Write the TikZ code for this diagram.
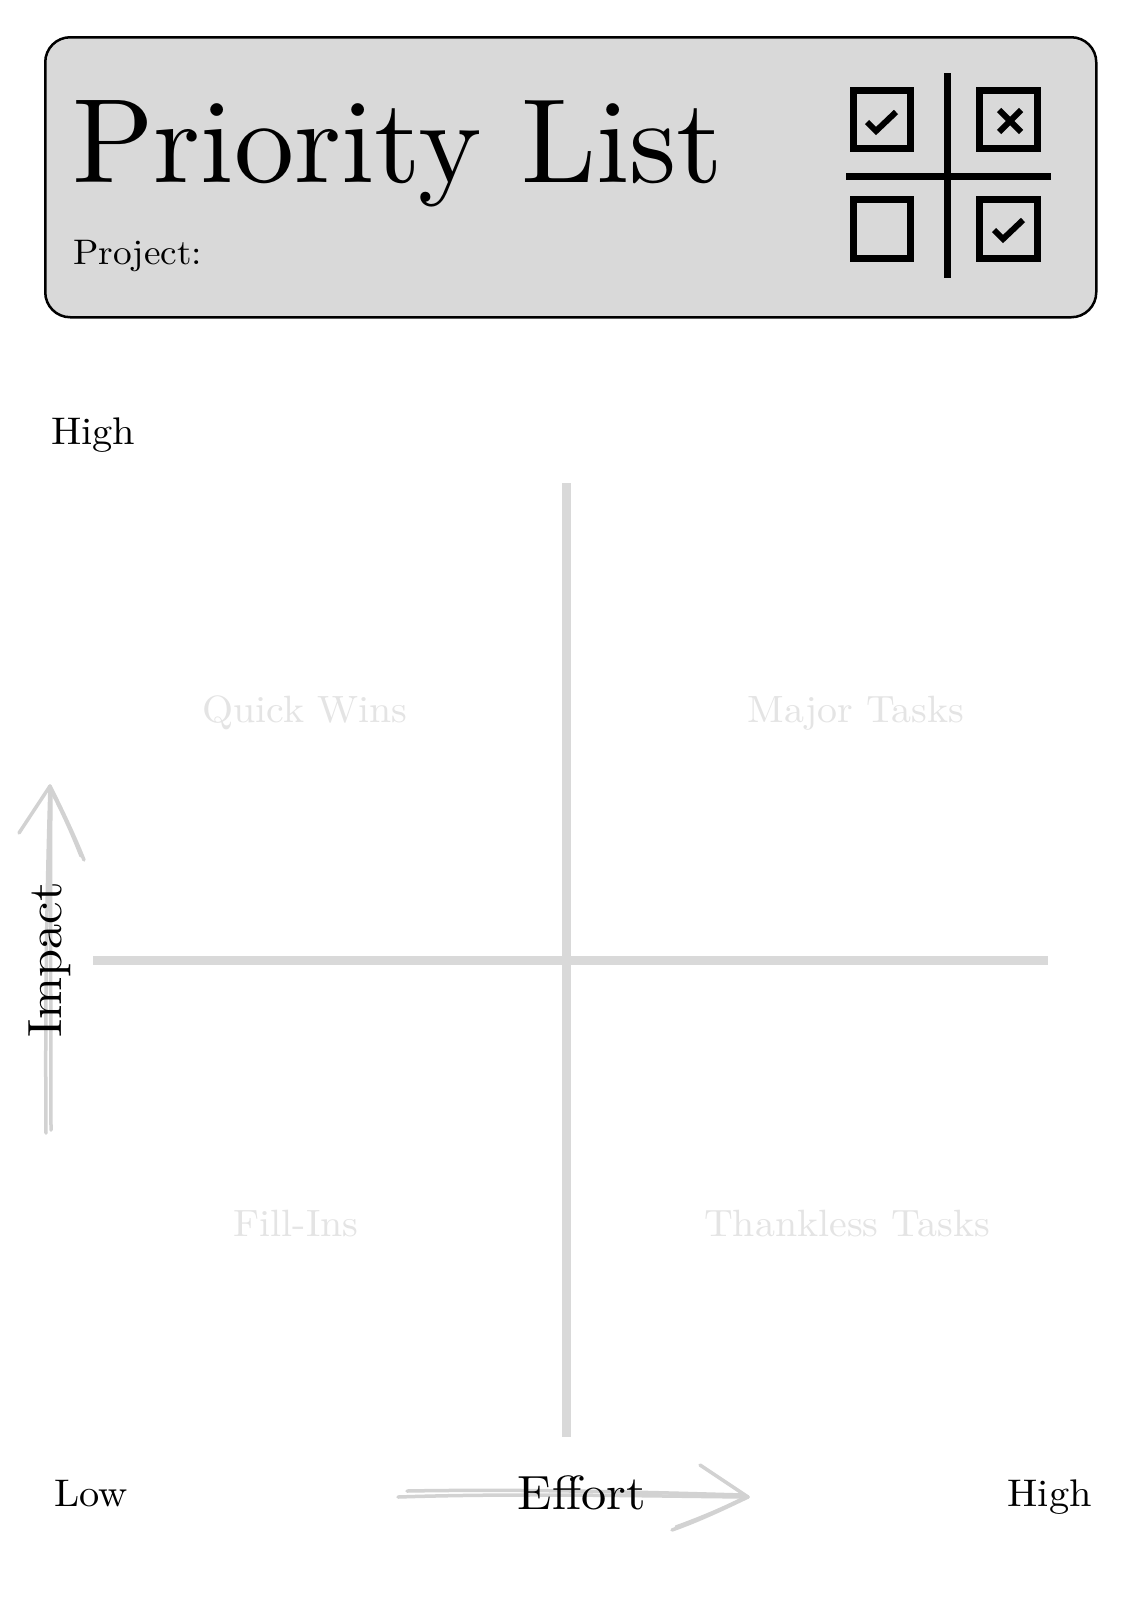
\documentclass[tikz,border=0pt]{standalone}
\usepackage{fontspec}
\setmainfont{lmroman10-regular.otf}[FakeStretch=1.05]
\newfontfamily\titlefont{lmroman10-regular.otf}
\begin{document}
\begin{tikzpicture}[x=1pt,y=-1pt,
  hdr/.style={draw=black,line width=2.5pt,fill=hdrgray,rounded corners=25pt},
  icon/.style={draw=black,line width=7pt},
  tick/.style={draw=black,line width=6pt},
  axis/.style={draw=axgray,line width=9pt},
  sketch/.style={draw=arrgray,line width=3.5pt,line cap=round,line join=round},
  quad/.style={text=quadgray,font=\fontsize{38}{38}\selectfont,anchor=base,inner sep=0pt},
  lbl/.style={text=black,font=\fontsize{38.5}{38.5}\selectfont,inner sep=0pt}]
\definecolor{hdrgray}{HTML}{D9D9D9}
\definecolor{axgray}{HTML}{D9D9D9}
\definecolor{arrgray}{HTML}{D2D2D2}
\definecolor{quadgray}{HTML}{E4E4E4}
\fill[white] (0,0) rectangle (1140,1612);
\useasboundingbox (0,0) rectangle (1140,1612);
% header
\node[hdr,minimum width=1051pt,minimum height=280pt,anchor=north west] (header) at (44,36) {};
\node[anchor=base west,inner sep=0pt,font=\titlefont\fontsize{120}{120}\selectfont] (title) at (72,182) {Priority List};
\node[anchor=base west,inner sep=0pt,font=\fontsize{35.5}{35.5}\selectfont] (project) at (73,264) {Project:};
% icon
\draw[icon] (947,73) -- (947,278);
\draw[icon] (846,176) -- (1051,176);
\draw[icon] (853.5,90.5) rectangle (910.5,148.5);
\draw[icon] (979.5,90.5) rectangle (1037.5,148.5);
\draw[icon] (853.5,199.5) rectangle (910.5,258.5);
\draw[icon] (979.5,199.5) rectangle (1037.5,258.5);
\draw[tick] (867,122) -- (876,131) -- (896,112);
\draw[tick] (994,230) -- (1003,239) -- (1023,220);
\draw[tick] (999,110) -- (1021,132);
\draw[tick] (1021,110) -- (999,132);
% axes of matrix
\coordinate (vtop) at (566,483);
\coordinate (vbot) at (566,1437);
\coordinate (hleft) at (93,960);
\coordinate (hright) at (1048,960);
\draw[axis] (vtop) -- (vbot);
\draw[axis] (hleft) -- (hright);
% quadrant labels
\node[quad] (qw) at (305,722) {Quick Wins};
\node[quad] (mt) at (856,722) {Major Tasks};
\node[quad] (fi) at (296,1236) {Fill-Ins};
\node[quad] (tt) at (847,1236) {Thankless Tasks};
% vertical sketch arrow
\coordinate (vtip) at (50,786);
\draw[sketch] (46,1133) .. controls (45,1000) and (47,880) .. (vtip);
\draw[sketch] (51,1130) .. controls (51,1000) and (50,880) .. (51,792);
\draw[sketch] (vtip) -- (19,833);
\draw[sketch] (vtip) .. controls (62,810) and (74,835) .. (84,860);
\draw[sketch] (52,792) .. controls (64,815) and (74,838) .. (81,856);
% horizontal sketch arrow
\coordinate (htip) at (748,1497);
\draw[sketch] (398,1497) .. controls (520,1493) and (640,1496) .. (htip);
\draw[sketch] (407,1491) .. controls (520,1489) and (640,1492) .. (742,1495);
\draw[sketch] (700,1465) -- (htip);
\draw[sketch] (htip) .. controls (725,1508) and (700,1520) .. (672,1530);
\draw[sketch] (742,1499) .. controls (720,1510) and (698,1519) .. (676,1527);
% axis labels
\node[lbl,anchor=base west] (highY) at (51,444) {High};
\node[lbl,anchor=base west] (low) at (54,1506) {Low};
\node[lbl,anchor=base east] (highX) at (1092,1506) {High};
\node[inner sep=0pt,anchor=base,font=\fontsize{48}{48}\selectfont] (effort) at (582,1509) {Effort};
\node[inner sep=0pt,anchor=base,rotate=90,font=\fontsize{48}{48}\selectfont] (impact) at (61,960) {Impact};
\end{tikzpicture}
\end{document}
